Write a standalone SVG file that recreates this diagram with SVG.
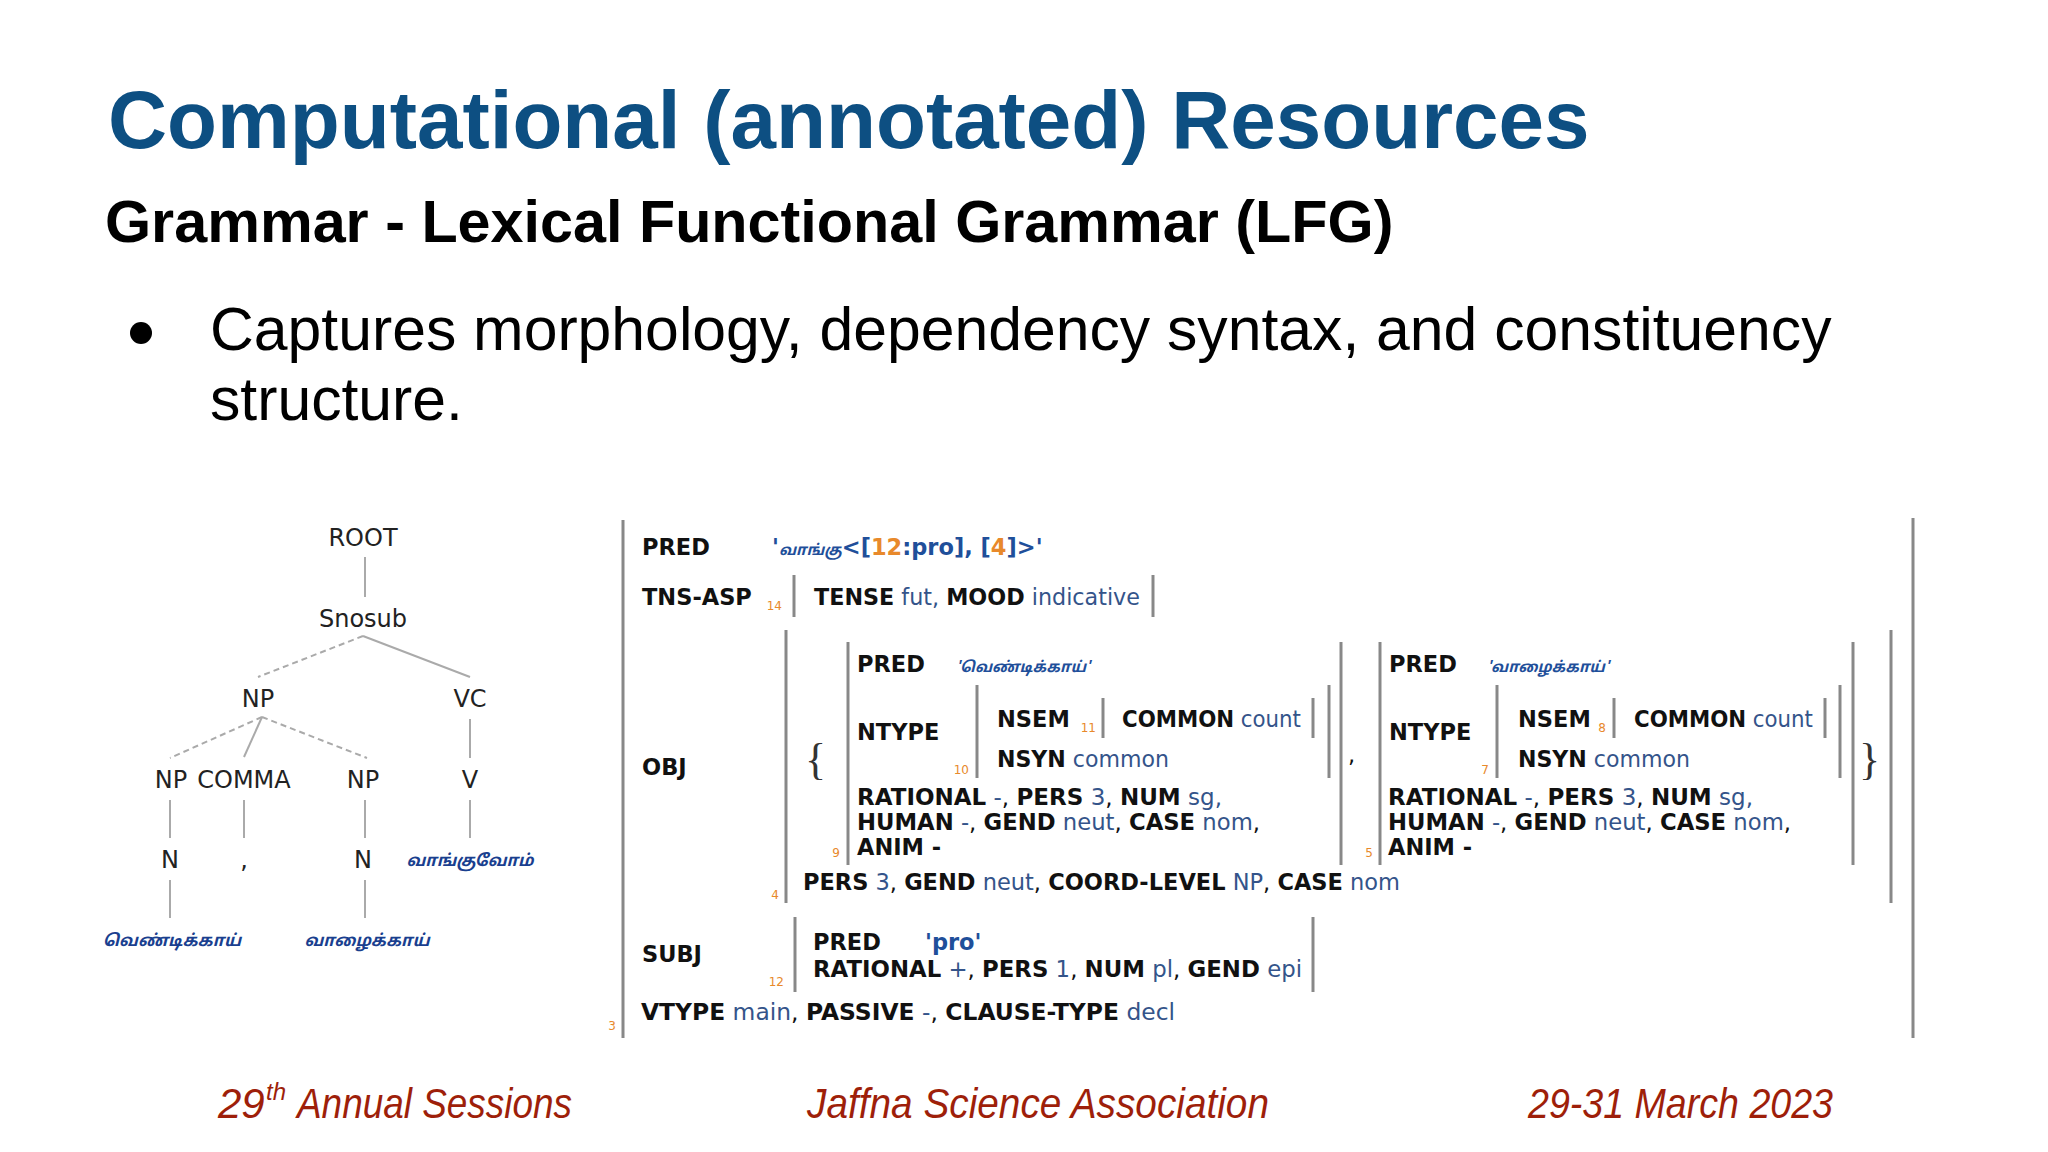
<svg xmlns="http://www.w3.org/2000/svg" width="2048" height="1152" viewBox="0 0 2048 1152">
<style>
.title{font-family:"Liberation Sans",Arial,sans-serif;font-weight:bold;fill:#0d4f82}
.sub{font-family:"Liberation Sans",Arial,sans-serif;font-weight:bold;fill:#000}
.body{font-family:"Liberation Sans",Arial,sans-serif;fill:#000}
.foot{font-family:"Liberation Sans",Arial,sans-serif;font-style:italic;fill:#9e1f0a}
.tn{font-family:"DejaVu Sans",Verdana,sans-serif;font-size:24px;fill:#222;text-anchor:middle}
.tw{font-family:"Noto Sans Tamil","Noto Sans","DejaVu Sans",sans-serif;font-size:16.5px;font-weight:bold;font-style:italic;fill:#1a3f8f;text-anchor:middle}
.edge{stroke:#aaa;stroke-width:2;fill:none}
.dash{stroke-dasharray:6 4}
.av{font-family:"DejaVu Sans",Verdana,sans-serif;font-size:22.5px;fill:#111}
.k{font-weight:bold;fill:#111}
.v{fill:#34548a}
.vb{fill:#1f4f9a;font-weight:bold}
.o{fill:#e8892b}
.idx{font-family:"DejaVu Sans",Verdana,sans-serif;font-size:12px;fill:#e8892b;text-anchor:end}
.tam{font-family:"Noto Sans Tamil","Noto Sans","DejaVu Sans",sans-serif;font-size:15px;font-style:italic;font-weight:bold;fill:#1f4f9a}
.br{font-family:"Liberation Serif","DejaVu Serif",serif;font-size:44px;fill:#333}
.bar{stroke:#888;stroke-width:3;fill:none}
</style>
<rect width="2048" height="1152" fill="#fff"/>

<text class="title" x="108" y="148" font-size="81.8">Computational (annotated) Resources</text>
<text class="sub" x="105" y="242" font-size="59.3">Grammar - Lexical Functional Grammar (LFG)</text>
<circle cx="141" cy="333" r="11" fill="#000"/>
<text class="body" x="210" y="350" font-size="60.7">Captures morphology, dependency syntax, and constituency</text>
<text class="body" x="210" y="420" font-size="60.7">structure.</text>

<!-- constituency tree -->
<g id="connectors">
<line class="edge" x1="365" y1="557" x2="365" y2="597"/>
<line class="edge dash" x1="363" y1="636" x2="258" y2="677"/>
<line class="edge" x1="363" y1="636" x2="470" y2="677"/>
<line class="edge dash" x1="262" y1="717" x2="170" y2="758"/>
<line class="edge" x1="262" y1="717" x2="244" y2="757"/>
<line class="edge dash" x1="262" y1="717" x2="367" y2="758"/>
<line class="edge" x1="470" y1="719" x2="470" y2="758"/>
<line class="edge" x1="170" y1="800" x2="170" y2="838"/>
<line class="edge" x1="244" y1="800" x2="244" y2="838"/>
<line class="edge" x1="365" y1="800" x2="365" y2="838"/>
<line class="edge" x1="470" y1="800" x2="470" y2="838"/>
<line class="edge" x1="170" y1="880" x2="170" y2="918"/>
<line class="edge" x1="365" y1="880" x2="365" y2="918"/>
</g>
<g id="n-root"><text class="tn" x="363" y="546">ROOT</text></g>
<g id="n-snosub"><text class="tn" x="363" y="627">Snosub</text></g>
<g id="n-np"><text class="tn" x="258" y="707">NP</text></g>
<g id="n-vc"><text class="tn" x="470" y="707">VC</text></g>
<g id="n-np1"><text class="tn" x="171" y="788">NP</text></g>
<g id="n-comma"><text class="tn" x="244" y="788">COMMA</text></g>
<g id="n-np2"><text class="tn" x="363" y="788">NP</text></g>
<g id="n-v"><text class="tn" x="470" y="788">V</text></g>
<g id="n-n1"><text class="tn" x="170" y="868">N</text></g>
<g id="n-commatok"><text class="tn" x="244" y="868">,</text></g>
<g id="n-n2"><text class="tn" x="363" y="868">N</text></g>
<g id="n-verb"><text class="tw" x="470" y="866">வாங்குவோம்</text></g>
<g id="n-w1"><text class="tw" x="172" y="946">வெண்டிக்காய்</text></g>
<g id="n-w2"><text class="tw" x="367" y="946">வாழைக்காய்</text></g>

<!-- f-structure -->
<g id="fstructure">
<g id="bars">
<line class="bar" x1="623" y1="520" x2="623" y2="1038"/>
<line class="bar" x1="1913" y1="518" x2="1913" y2="1038"/>
<line class="bar" x1="794" y1="575" x2="794" y2="617"/>
<line class="bar" x1="1153" y1="575" x2="1153" y2="617"/>
<line class="bar" x1="786" y1="630" x2="786" y2="903"/>
<line class="bar" x1="1891" y1="630" x2="1891" y2="903"/>
<line class="bar" x1="848" y1="642" x2="848" y2="865"/>
<line class="bar" x1="1341" y1="642" x2="1341" y2="865"/>
<line class="bar" x1="977" y1="685" x2="977" y2="778"/>
<line class="bar" x1="1329" y1="685" x2="1329" y2="778"/>
<line class="bar" x1="1103" y1="698" x2="1103" y2="738"/>
<line class="bar" x1="1313" y1="698" x2="1313" y2="738"/>
<line class="bar" x1="1380" y1="642" x2="1380" y2="865"/>
<line class="bar" x1="1853" y1="642" x2="1853" y2="865"/>
<line class="bar" x1="1497" y1="685" x2="1497" y2="778"/>
<line class="bar" x1="1840" y1="685" x2="1840" y2="778"/>
<line class="bar" x1="1614" y1="698" x2="1614" y2="738"/>
<line class="bar" x1="1825" y1="698" x2="1825" y2="738"/>
<line class="bar" x1="795" y1="917" x2="795" y2="992"/>
<line class="bar" x1="1313" y1="917" x2="1313" y2="992"/>
</g>

<text class="av k" x="642" y="555">PRED</text>
<text class="av vb" x="772" y="555">'<tspan class="tam">வாங்கு</tspan>&lt;[<tspan class="o">12</tspan>:pro], [<tspan class="o">4</tspan>]&gt;'</text>

<text class="av k" x="642" y="605">TNS-ASP</text>
<text class="idx" x="782" y="610">14</text>
<text class="av" x="814" y="605" textLength="326" lengthAdjust="spacingAndGlyphs"><tspan class="k">TENSE</tspan><tspan class="v"> fut, </tspan><tspan class="k">MOOD</tspan><tspan class="v"> indicative</tspan></text>

<text class="av k" x="642" y="775">OBJ</text>
<text class="br" x="805" y="774">{</text>

<text class="av k" x="857" y="672">PRED</text>
<text class="tam" x="956" y="672">'வெண்டிக்காய்'</text>
<text class="av k" x="857" y="740">NTYPE</text>
<text class="idx" x="969" y="774">10</text>
<text class="av" x="997" y="727"><tspan class="k">NSEM</tspan></text>
<text class="idx" x="1096" y="732">11</text>
<text class="av" x="1122" y="727" textLength="179" lengthAdjust="spacingAndGlyphs"><tspan class="k">COMMON</tspan><tspan class="v"> count</tspan></text>
<text class="av" x="997" y="767" textLength="172" lengthAdjust="spacingAndGlyphs"><tspan class="k">NSYN</tspan><tspan class="v"> common</tspan></text>
<text class="av" x="857" y="805" textLength="365" lengthAdjust="spacingAndGlyphs"><tspan class="k">RATIONAL</tspan><tspan class="v"> -</tspan>, <tspan class="k">PERS</tspan><tspan class="v"> 3</tspan>, <tspan class="k">NUM</tspan><tspan class="v"> sg,</tspan></text>
<text class="av" x="857" y="830" textLength="403" lengthAdjust="spacingAndGlyphs"><tspan class="k">HUMAN</tspan><tspan class="v"> -</tspan>, <tspan class="k">GEND</tspan><tspan class="v"> neut</tspan>, <tspan class="k">CASE</tspan><tspan class="v"> nom</tspan>,</text>
<text class="av" x="857" y="855"><tspan class="k">ANIM -</tspan></text>
<text class="idx" x="840" y="857">9</text>

<text class="av" x="1348" y="762" fill="#333">,</text>

<text class="av k" x="1389" y="672">PRED</text>
<text class="tam" x="1487" y="672">'வாழைக்காய்'</text>
<text class="av k" x="1389" y="740">NTYPE</text>
<text class="idx" x="1489" y="774">7</text>
<text class="av" x="1518" y="727"><tspan class="k">NSEM</tspan></text>
<text class="idx" x="1606" y="732">8</text>
<text class="av" x="1634" y="727" textLength="179" lengthAdjust="spacingAndGlyphs"><tspan class="k">COMMON</tspan><tspan class="v"> count</tspan></text>
<text class="av" x="1518" y="767" textLength="172" lengthAdjust="spacingAndGlyphs"><tspan class="k">NSYN</tspan><tspan class="v"> common</tspan></text>
<text class="av" x="1388" y="805" textLength="365" lengthAdjust="spacingAndGlyphs"><tspan class="k">RATIONAL</tspan><tspan class="v"> -</tspan>, <tspan class="k">PERS</tspan><tspan class="v"> 3</tspan>, <tspan class="k">NUM</tspan><tspan class="v"> sg,</tspan></text>
<text class="av" x="1388" y="830" textLength="403" lengthAdjust="spacingAndGlyphs"><tspan class="k">HUMAN</tspan><tspan class="v"> -</tspan>, <tspan class="k">GEND</tspan><tspan class="v"> neut</tspan>, <tspan class="k">CASE</tspan><tspan class="v"> nom</tspan>,</text>
<text class="av" x="1388" y="855"><tspan class="k">ANIM -</tspan></text>
<text class="idx" x="1373" y="857">5</text>

<text class="br" x="1859" y="774">}</text>

<text class="idx" x="779" y="899">4</text>
<text class="av" x="803" y="890" textLength="597" lengthAdjust="spacingAndGlyphs"><tspan class="k">PERS</tspan><tspan class="v"> 3</tspan>, <tspan class="k">GEND</tspan><tspan class="v"> neut</tspan>, <tspan class="k">COORD-LEVEL</tspan><tspan class="v"> NP</tspan>, <tspan class="k">CASE</tspan><tspan class="v"> nom</tspan></text>

<text class="av k" x="642" y="962">SUBJ</text>
<text class="idx" x="784" y="986">12</text>
<text class="av k" x="813" y="950">PRED</text>
<text class="av vb" x="925" y="950">'pro'</text>
<text class="av" x="813" y="977" textLength="489" lengthAdjust="spacingAndGlyphs"><tspan class="k">RATIONAL</tspan><tspan class="v"> +</tspan>, <tspan class="k">PERS</tspan><tspan class="v"> 1</tspan>, <tspan class="k">NUM</tspan><tspan class="v"> pl</tspan>, <tspan class="k">GEND</tspan><tspan class="v"> epi</tspan></text>

<text class="av" x="641" y="1020" textLength="534" lengthAdjust="spacingAndGlyphs"><tspan class="k">VTYPE</tspan><tspan class="v"> main</tspan>, <tspan class="k">PASSIVE</tspan><tspan class="v"> -</tspan>, <tspan class="k">CLAUSE-TYPE</tspan><tspan class="v"> decl</tspan></text>
<text class="idx" x="616" y="1030" fill="#d0453a">3</text>
</g>

<!-- footer -->
<text class="foot" x="218" y="1118" font-size="42">29</text>
<text class="foot" x="266" y="1100" font-size="24">th</text>
<text class="foot" x="297" y="1118" font-size="42" textLength="275" lengthAdjust="spacingAndGlyphs">Annual Sessions</text>
<text class="foot" x="807" y="1118" font-size="42" textLength="462" lengthAdjust="spacingAndGlyphs">Jaffna Science Association</text>
<text class="foot" x="1528" y="1118" font-size="42" textLength="305" lengthAdjust="spacingAndGlyphs">29-31 March 2023</text>
</svg>
